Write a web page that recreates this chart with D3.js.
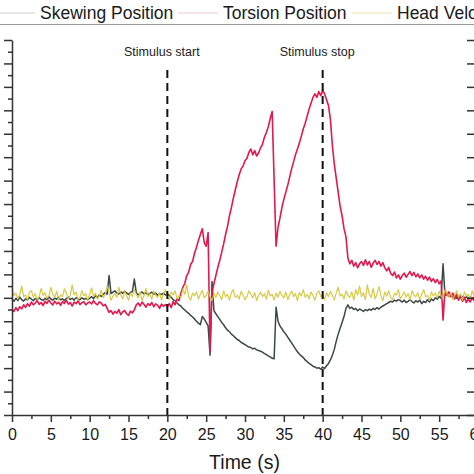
<!DOCTYPE html>
<html><head><meta charset="utf-8">
<script src="https://cdn.jsdelivr.net/npm/d3@7"></script>
<style>
html,body{margin:0;padding:0;background:#fff;overflow:hidden;}
svg{display:block;font-family:"Liberation Sans",Arial,sans-serif;}
</style></head>
<body>
<svg id="chart" width="474" height="474"></svg>
<script>
// ---- data ----
const seriesNames = ["Skewing Position", "Torsion Position", "Head Velocity"];
const xTickLabels = [0, 5, 10, 15, 20, 25, 30, 35, 40, 45, 50, 55, 60];
const markers = [{t: 20, label: "Stimulus start"}, {t: 40, label: "Stimulus stop"}];
const sampleStep = 0.25; // s

const skewing = [
-0.05,-0.15,-0.02,-0.12,0.03,-0.08,-0.14,-0.04,-0.10,0.02,-0.06,-0.12,
-0.03,-0.09,0.01,-0.07,-0.11,-0.02,-0.08,0.04,-0.05,-0.10,-0.01,-0.06,0.02,-0.09,-0.04,-0.12,-0.03,0.03,-0.07,-0.02,-0.10,0.01,-0.05,-0.08,0.00,-0.06,-0.03,-0.09,
-0.02,0.05,-0.04,0.08,0.02,0.12,0.06,0.15,
0.22,0.15,0.95,0.18,0.24,0.30,0.20,0.16,0.25,0.19,0.28,0.21,0.14,0.23,0.27,0.80,0.22,0.12,0.20,0.25,0.16,0.21,0.13,0.19,0.24,0.15,0.20,0.11,0.18,0.14,0.20,0.12,0.16,
0.10,0.02,-0.08,-0.12,-0.22,-0.30,-0.35,-0.45,-0.52,-0.60,-0.66,-0.75,-0.82,-0.90,-1.00,-1.08,-1.15,-0.80,-0.90,-1.05,-1.20,-2.45,0.70,
-0.55,-0.68,-0.80,-0.92,-1.05,-1.15,-1.28,-1.38,-1.45,-1.55,-1.62,-1.70,-1.78,-1.82,-1.90,-1.95,-2.00,-2.05,-2.10,-2.12,-2.18,-2.15,-2.22,-2.25,-2.28,-2.32,-2.38,-2.42,-2.48,-2.52,-2.58,-2.60,
-0.40,-1.00,-1.20,-1.32,-1.45,-1.55,-1.68,-1.80,-1.92,-2.05,-2.18,-2.30,-2.40,-2.48,-2.55,-2.65,-2.72,-2.80,-2.85,-2.92,-2.95,-3.00,-2.98,-3.05,
-2.95,-3.02,-2.90,-2.80,-2.65,-2.45,-2.20,-1.85,-1.55,-1.30,-1.05,-0.80,-0.45,-0.30,-0.45,-0.40,-0.50,-0.45,-0.55,-0.48,
-0.52,-0.58,-0.50,-0.55,-0.48,-0.53,-0.45,-0.50,-0.42,-0.48,-0.40,-0.35,-0.30,-0.25,-0.20,-0.15,-0.18,-0.10,-0.14,-0.08,
-0.12,-0.18,-0.10,-0.20,-0.15,-0.08,-0.16,-0.22,-0.12,-0.18,-0.10,-0.25,-0.15,-0.20,-0.08,-0.18,-0.05,-0.12,0.00,-0.06,
0.05,-0.02,1.45,0.10,0.15,0.05,0.12,0.02,0.10,-0.02,0.08,0.00,0.06,-0.04,0.05,-0.02,0.04,-0.05,0.02,-0.03,0.00
];

const torsion = [
-0.50,-0.58,-0.42,-0.55,-0.38,-0.47,-0.30,-0.41,
-0.25,-0.36,-0.18,-0.30,-0.22,-0.12,-0.28,-0.20,-0.33,-0.15,-0.24,-0.10,
-0.22,-0.30,-0.14,-0.26,-0.19,-0.32,-0.16,-0.24,-0.11,-0.27,-0.20,-0.35,-0.18,-0.25,-0.13,-0.29,-0.21,-0.16,-0.30,-0.22,
-0.18,-0.26,-0.12,-0.24,-0.30,-0.17,-0.23,-0.34,-0.28,-0.45,
-0.62,-0.55,-0.70,-0.58,-0.66,-0.50,-0.72,-0.60,-0.54,-0.68,-0.75,-0.57,-0.64,-0.52,
-0.30,-0.22,-0.35,-0.18,-0.28,-0.40,-0.25,-0.33,-0.20,-0.38,-0.26,-0.31,-0.45,-0.27,-0.36,-0.29,-0.38,
-0.25,-0.42,-0.15,-0.30,-0.05,-0.12,0.20,0.45,0.62,0.95,1.10,1.42,1.55,1.90,2.15,2.45,2.70,2.95,2.35,2.20,2.78,-2.30,
0.25,0.60,0.95,1.30,1.60,1.95,2.30,2.70,3.05,3.50,3.85,4.25,4.60,4.95,5.25,5.50,5.62,5.85,5.95,6.20,6.35,6.10,6.28,6.05,6.18,6.40,6.55,6.85,7.05,7.30,7.65,7.95,5.00,
2.20,3.00,3.40,3.85,4.20,4.50,4.80,5.15,5.50,5.80,6.10,6.35,6.60,6.90,7.20,7.45,7.75,8.05,8.30,8.55,8.70,8.55,8.80,8.62,
8.85,8.70,8.45,8.20,7.60,6.50,5.70,5.10,4.50,3.90,3.50,2.95,2.60,1.70,1.45,1.60,1.35,1.50,1.28,1.45,
1.55,1.38,1.62,1.40,1.55,1.30,1.48,1.60,1.42,1.55,1.35,1.50,1.28,1.15,1.30,1.05,0.95,1.10,0.85,0.98,
0.80,0.95,1.05,0.88,1.00,1.12,0.95,1.08,0.90,1.02,0.85,0.98,0.80,0.92,0.75,0.88,0.70,0.82,0.65,0.78,
0.60,0.72,-0.95,0.35,0.10,0.25,0.05,0.20,-0.05,0.15,-0.10,0.08,-0.15,0.02,-0.20,-0.05,-0.18,0.00,-0.12,-0.22,-0.08
];

const headVelocity = [
0.35,0.10,0.20,-0.05,0.15,0.50,0.05,0.12,-0.10,0.25,0.30,0.02,0.18,-0.08,0.05,0.40,0.10,0.22,-0.02,0.08,
0.45,0.15,0.02,0.28,-0.10,0.12,0.05,0.38,0.20,-0.05,0.10,0.55,0.12,0.25,-0.08,0.02,0.30,0.08,0.18,-0.12,
0.15,0.42,0.05,0.20,-0.06,0.10,0.32,0.00,0.15,0.50,0.22,-0.10,0.08,0.18,0.02,0.45,0.12,-0.05,0.28,0.10,
-0.10,0.20,0.05,0.35,0.15,0.00,0.25,-0.12,0.10,0.40,0.05,0.18,-0.06,0.30,0.12,0.02,0.22,-0.10,0.15,0.35,
0.05,-0.08,0.25,0.12,0.30,-0.05,0.10,0.02,0.38,0.15,0.55,0.05,-0.10,0.20,0.08,0.25,-0.05,0.15,0.32,0.00,
0.10,0.28,0.05,-0.12,0.18,0.02,0.25,0.10,-0.08,0.30,0.05,0.15,-0.10,0.22,0.35,0.02,0.10,-0.05,0.28,0.12,
-0.08,0.05,0.30,0.15,0.00,0.22,-0.12,0.10,0.25,0.05,0.18,-0.06,0.32,0.08,0.15,-0.10,0.20,0.02,0.28,0.10,
0.00,0.25,-0.08,0.12,0.30,0.05,0.18,-0.12,0.22,0.08,0.35,0.02,0.15,-0.05,0.25,0.10,-0.10,0.18,0.30,0.05,
0.15,-0.08,0.22,0.05,0.28,0.12,-0.10,0.20,0.45,0.08,0.15,-0.05,0.30,0.10,0.02,0.25,-0.10,0.35,0.12,0.50,
0.05,0.22,-0.08,0.55,0.15,0.02,0.40,-0.05,0.18,0.48,0.10,-0.12,0.25,0.08,0.30,0.02,-0.08,0.20,0.12,0.35,
-0.05,0.10,0.25,0.02,0.18,-0.10,0.30,0.12,0.05,0.22,-0.08,0.15,0.35,0.05,0.10,-0.12,0.25,0.08,0.20,0.00,
0.28,0.10,-0.05,0.35,0.15,0.05,0.22,-0.08,0.12,0.30,0.02,0.18,-0.10,0.25,0.08,0.15,-0.05,0.30,0.10,0.02,0.15
];

const colors = ["#3b4846", "#e3184c", "#d6c63c"];
const legendLineColors = ["#cfcfcf", "#efc6d0", "#ece6b4"];

// ---- drawing ----
const svg = d3.select("#chart");
const x = d3.scaleLinear().domain([0, 60]).range([12, 478]);
const y = d3.scaleLinear().domain([-5, 11]).range([415, 40]);

const FONT = '"Liberation Sans", Arial, sans-serif';

// legend
const legend = svg.append("g");
legend.append("line").attr("x1", -2).attr("x2", 480).attr("y1", 24.5).attr("y2", 24.5)
  .attr("stroke", "#9a9a9a").attr("stroke-width", 1.2);
const legX = [{l0: -2, l1: 35, tx: 40}, {l0: 178, l1: 218, tx: 223}, {l0: 352, l1: 392, tx: 397}];
seriesNames.forEach((n, i) => {
  legend.append("line").attr("x1", legX[i].l0).attr("x2", legX[i].l1).attr("y1", 13).attr("y2", 13)
    .attr("stroke", legendLineColors[i]).attr("stroke-width", 1.2);
  legend.append("text").attr("x", legX[i].tx).attr("y", 19).text(n)
    .attr("font-size", 17.5).attr("fill", "#1a1a1a").attr("font-family", FONT);
});

// series lines
const line = d3.line().x((d, i) => x(i * sampleStep)).y(d => y(d));
const plot = svg.append("g");
const widths = [1.5, 1.6, 1.2];
[skewing, torsion, headVelocity].forEach((s, i) => {
  plot.append("path").datum(s).attr("d", line).attr("fill", "none")
    .attr("stroke", colors[i]).attr("stroke-width", widths[i])
    .attr("stroke-linejoin", "round").attr("opacity", i === 2 ? 0.95 : 1);
});

// stimulus markers
markers.forEach(m => {
  svg.append("line").attr("x1", x(m.t)).attr("x2", x(m.t)).attr("y1", 70).attr("y2", 415)
    .attr("stroke", "#111").attr("stroke-width", 2).attr("stroke-dasharray", "8,5");
  svg.append("text").attr("x", x(m.t) - 5.5).attr("y", 56).attr("text-anchor", "middle")
    .attr("font-size", 12.5).attr("fill", "#222").attr("font-family", FONT).text(m.label);
});

// axes
const axisColor = "#333";
function styleAxis(g) {
  g.selectAll("path, line").attr("stroke", axisColor).attr("stroke-width", 1.5);
}
const yMajor = d3.range(-5, 11.01, 1);
const yMinor = d3.range(-4.5, 11, 1);
svg.append("g").attr("transform", "translate(12,0)")
  .call(d3.axisLeft(y).tickValues(yMinor).tickSize(4).tickFormat(""))
  .call(g => g.select(".domain").remove()).call(styleAxis);
svg.append("g").attr("transform", "translate(12,0)")
  .call(d3.axisLeft(y).tickValues(yMajor).tickSize(8).tickSizeOuter(0).tickFormat(""))
  .call(styleAxis);
svg.append("g").attr("transform", "translate(478,0)")
  .call(d3.axisLeft(y).tickValues(yMajor).tickSize(11).tickSizeOuter(0).tickFormat(""))
  .call(styleAxis);

const xMinor = d3.range(2.5, 60, 5);
svg.append("g").attr("transform", "translate(0,415)")
  .call(d3.axisBottom(x).tickValues(xMinor).tickSize(4).tickFormat(""))
  .call(g => g.select(".domain").remove()).call(styleAxis);
svg.append("g").attr("transform", "translate(0,415)")
  .call(d3.axisBottom(x).tickValues(xTickLabels).tickSize(7).tickSizeOuter(0).tickPadding(6.5).tickFormat(d3.format("d")))
  .call(styleAxis)
  .call(g => g.selectAll("text").attr("font-size", 16).attr("fill", "#1a1a1a").attr("font-family", FONT));

svg.append("text").attr("x", 244.5).attr("y", 469).attr("text-anchor", "middle")
  .attr("font-size", 19.5).attr("fill", "#1a1a1a").attr("font-family", FONT).text("Time (s)");
</script>
</body></html>
